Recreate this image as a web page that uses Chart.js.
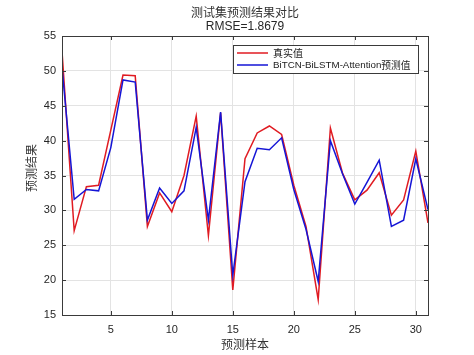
<!DOCTYPE html>
<html>
<head>
<meta charset="utf-8">
<script src="https://cdn.jsdelivr.net/npm/chart.js@4.4.1/dist/chart.umd.min.js"></script>
<style>
html,body{margin:0;padding:0;background:#fff;}
#wrap{width:474px;height:355px;position:relative;}
</style>
</head>
<body>
<div id="wrap"><canvas id="c" width="474" height="355"></canvas></div>
<script>
const titleMain = "测试集预测结果对比";
const titleSub = "RMSE=1.8679";
const xLabel = "预测样本";
const yLabel = "预测结果";
const seriesNames = ["真实值", "BiTCN-BiLSTM-Attention预测值"];
const samples = [1,2,3,4,5,6,7,8,9,10,11,12,13,14,15,16,17,18,19,20,21,22,23,24,25,26,27,28,29,30,31];
const actual = [52.8,27.1,33.4,33.6,41.5,49.4,49.3,27.7,32.5,29.8,35.0,43.5,26.4,44.0,18.6,37.4,41.1,42.1,40.9,33.6,27.7,17.2,41.8,35.3,31.5,32.9,35.4,29.3,31.5,38.5,28.2];
const predicted = [50.5,31.6,33.0,32.8,39.0,48.7,48.4,28.6,33.2,31.0,32.8,41.9,28.6,44.1,20.7,34.1,38.9,38.7,40.4,33.0,27.3,19.8,40.0,35.2,30.9,34.0,37.2,27.7,28.6,37.4,30.1];
const xTicks = [5,10,15,20,25,30];
const yTicks = [15,20,25,30,35,40,45,50,55];

const RED = '#e01b22';
const BLUE = '#1515d6';
const TXT = '#262626';
const NUMFONT = '"Liberation Sans", Arial, sans-serif';
const CJKFONT = '"Noto Sans CJK SC", sans-serif';

const decor = {
  id: 'decor',
  afterDraw(chart) {
    const ctx = chart.ctx;
    const a = chart.chartArea;
    const xs = chart.scales.x, ys = chart.scales.y;
    ctx.save();
    ctx.strokeStyle = '#3a3a3a';
    ctx.lineWidth = 1;
    ctx.strokeRect(Math.round(a.left)+0.5, Math.round(a.top)+0.5, Math.round(a.right-a.left), Math.round(a.bottom-a.top));
    ctx.beginPath();
    xTicks.forEach(v => {
      const px = Math.round(xs.getPixelForValue(v))+0.5;
      ctx.moveTo(px, a.bottom); ctx.lineTo(px, a.bottom-4);
      ctx.moveTo(px, a.top); ctx.lineTo(px, a.top+4);
    });
    yTicks.forEach(v => {
      const py = Math.round(ys.getPixelForValue(v))+0.5;
      ctx.moveTo(a.left, py); ctx.lineTo(a.left+4, py);
      ctx.moveTo(a.right, py); ctx.lineTo(a.right-4, py);
    });
    ctx.stroke();
    ctx.fillStyle = '#333';
    ctx.textAlign = 'center';
    ctx.textBaseline = 'middle';
    const cx = (a.left + a.right) / 2;
    ctx.font = '12px ' + CJKFONT;
    ctx.fillText(titleMain, cx, 12);
    ctx.font = '12px ' + NUMFONT;
    ctx.fillStyle = TXT;
    ctx.fillText(titleSub, cx, 27);
    ctx.font = '12px ' + CJKFONT;
    ctx.fillStyle = '#333';
    ctx.fillText(xLabel, cx, 344);
    ctx.save();
    ctx.translate(31, 168);
    ctx.rotate(-Math.PI / 2);
    ctx.fillText(yLabel, 0, 0);
    ctx.restore();
    // legend
    const lx = 233, ly = 45, lw = 185, lh = 28;
    ctx.fillStyle = '#fff';
    ctx.fillRect(lx, ly, lw, lh);
    ctx.strokeStyle = '#3a3a3a';
    ctx.lineWidth = 1;
    ctx.strokeRect(lx+0.5, ly+0.5, lw, lh);
    const ds = chart.data.datasets;
    const rows = [53, 65];
    ds.forEach((d, i) => {
      ctx.strokeStyle = d.borderColor;
      ctx.lineWidth = 1.5;
      ctx.beginPath();
      ctx.moveTo(237, rows[i]); ctx.lineTo(268, rows[i]);
      ctx.stroke();
    });
    ctx.textAlign = 'left';
    ctx.fillStyle = '#222';
    ctx.font = '10px ' + CJKFONT;
    ctx.fillText(ds[0].label, 273, rows[0]);
    const lab = ds[1].label;
    const m = lab.match(/^([\x00-\x7F]+)(.*)$/);
    let fs = 11, w1 = 0, w2 = 0;
    for (; fs > 8; fs -= 0.25) {
      ctx.font = fs + 'px ' + NUMFONT; w1 = ctx.measureText(m[1]).width;
      ctx.font = fs + 'px ' + CJKFONT; w2 = ctx.measureText(m[2]).width;
      if (w1 + w2 <= 141) break;
    }
    ctx.font = fs + 'px ' + NUMFONT;
    ctx.fillText(m[1], 273, rows[1]);
    ctx.font = fs + 'px ' + CJKFONT;
    ctx.fillText(m[2], 273 + w1, rows[1]);
    ctx.restore();
  }
};

new Chart(document.getElementById('c'), {
  type: 'line',
  data: {
    datasets: [
      { label: seriesNames[0], data: samples.map((s, i) => ({x: s, y: actual[i]})), borderColor: RED, backgroundColor: RED, borderWidth: 1.5, pointRadius: 0, tension: 0, order: 1 },
      { label: seriesNames[1], data: samples.map((s, i) => ({x: s, y: predicted[i]})), borderColor: BLUE, backgroundColor: BLUE, borderWidth: 1.5, pointRadius: 0, tension: 0, order: 0 }
    ]
  },
  options: {
    responsive: false,
    animation: false,
    devicePixelRatio: 1,
    layout: { padding: { top: 36, right: 46, left: 0, bottom: 0 } },
    plugins: { legend: { display: false }, tooltip: { enabled: false }, title: { display: false } },
    scales: {
      x: {
        type: 'linear', min: 1, max: 31,
        afterBuildTicks: s => { s.ticks = xTicks.map(v => ({value: v})); },
        afterFit: s => { s.height = 40; },
        grid: { color: '#e3e3e3', drawTicks: false, lineWidth: 1 },
        border: { display: false },
        ticks: { padding: 8, color: TXT, font: { family: NUMFONT, size: 11 }, maxRotation: 0 }
      },
      y: {
        min: 15, max: 55,
        afterBuildTicks: s => { s.ticks = yTicks.map(v => ({value: v})); },
        afterFit: s => { s.width = 62; },
        grid: { color: '#e3e3e3', drawTicks: false, lineWidth: 1 },
        border: { display: false },
        ticks: { padding: 6, color: TXT, font: { family: NUMFONT, size: 11 } }
      }
    }
  },
  plugins: [decor]
});
</script>
</body>
</html>
